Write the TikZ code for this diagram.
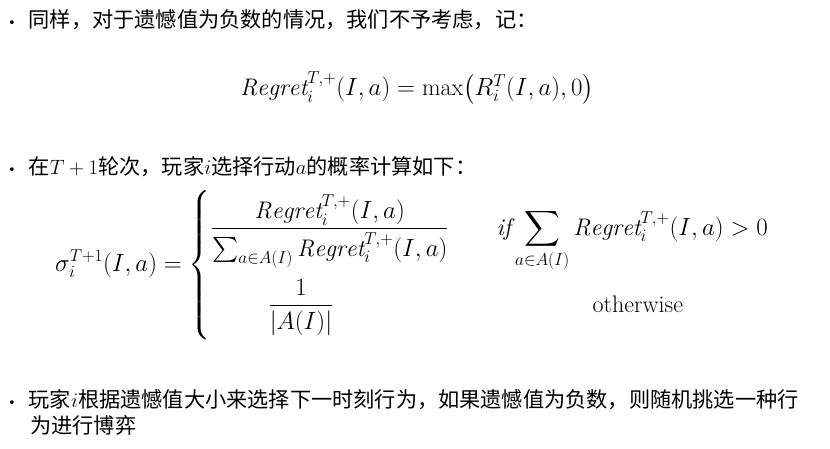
\documentclass[tikz,border=0pt]{standalone}
\usepackage{amsmath}
\usepackage{fontspec}
\newfontfamily\cjk{Noto Sans CJK SC}
\newfontfamily\bul{DejaVu Sans}
\begin{document}
\begin{tikzpicture}[x=1pt,y=-1pt,
  txt/.style={anchor=west,inner sep=0pt,font=\fontsize{21.2}{25}\selectfont},
  mth/.style={inner sep=0pt,font=\fontsize{24}{28}\selectfont}]
\useasboundingbox (0,0) rectangle (830,448);
\node[txt] (b1) at (8,20) {{\bul\fontsize{13}{13}\selectfont •}\ \ {\cjk 同样，对于遗憾值为负数的情况，我们不予考虑，记：}};
\node[mth] (f1) at (417,88) {$\mathit{Regret}_i^{T,+}(I,a)=\max\bigl(R_i^T(I,a),0\bigr)$};
\node[txt] (b2) at (8,167) {{\bul\fontsize{13}{13}\selectfont •}\ \ {\cjk 在}$T+1${\cjk 轮次，玩家}$i${\cjk 选择行动}$a${\cjk 的概率计算如下：}};
\node[mth,anchor=west] (f2) at (55,265) {$\sigma_i^{T+1}(I,a)=\begin{cases}
\dfrac{\mathit{Regret}_i^{T,+}(I,a)}{\textstyle\sum_{a\in A(I)}\mathit{Regret}_i^{T,+}(I,a)} & \quad \mathit{if}\displaystyle\sum_{a\in A(I)}\mathit{Regret}_i^{T,+}(I,a)>0\\[34pt]
\hfil\dfrac{1}{|A(I)|}\hfil & \qquad\qquad\quad \text{otherwise}
\end{cases}$};
\node[txt] (b3) at (8,400) {{\bul\fontsize{13}{13}\selectfont •}\ \ {\cjk 玩家}$i${\cjk 根据遗憾值大小来选择下一时刻行为，如果遗憾值为负数，则随机挑选一种行}};
\node[txt] (b4) at (30,425) {\cjk 为进行博弈};
\end{tikzpicture}
\end{document}
